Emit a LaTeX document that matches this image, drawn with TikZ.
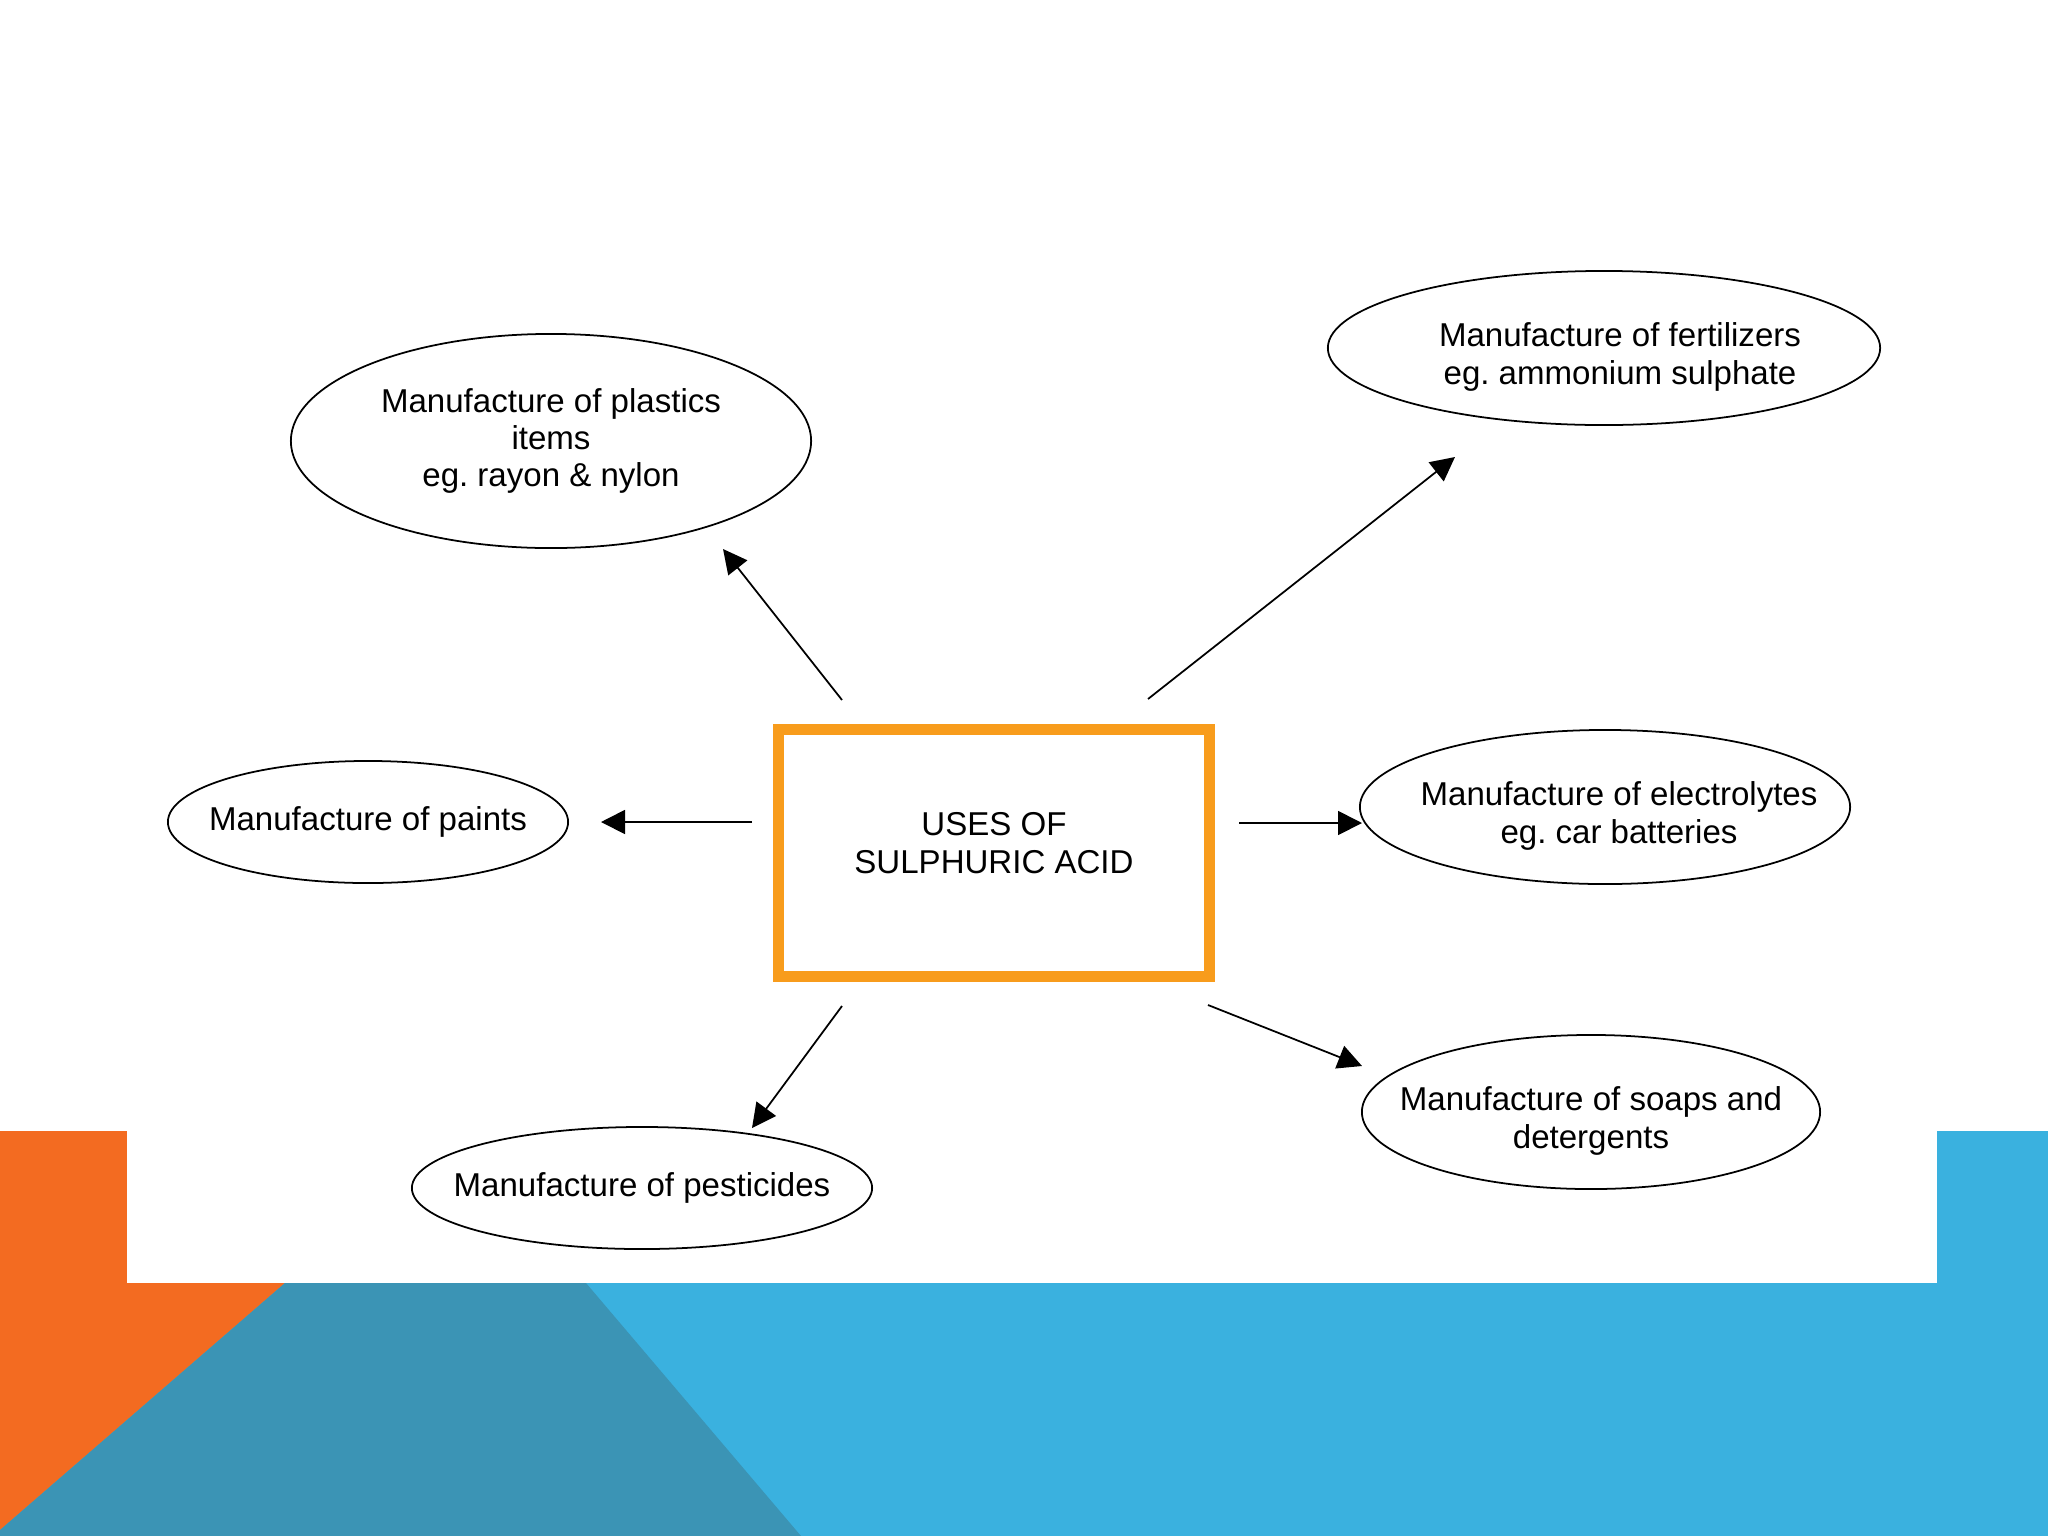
\documentclass[tikz,border=0pt]{standalone}
\usepackage{fontspec}
\setmainfont{Liberation Sans}
\frenchspacing
\usetikzlibrary{arrows.meta, shapes.geometric}
\definecolor{slorange}{HTML}{F36B21}
\definecolor{slteal}{HTML}{3B94B5}
\definecolor{slblue}{HTML}{3AB1DF}
\definecolor{boxorange}{HTML}{F89C1C}

\begin{document}
\begin{tikzpicture}[
  x=0.01cm, y=-0.01cm,
  >={Triangle[length=0.24cm, width=0.24cm]},
  bubble/.style={ellipse, draw=black, line width=0.5pt, fill=white,
    inner xsep=-0.3cm, inner ysep=0pt, align=center,
    font=\fontsize{9.4pt}{10.6pt}\selectfont},
  lowtext/.style={text depth=0pt, text height=0.72cm},
  acidbox/.style={draw=boxorange, line width=3.1pt, fill=white,
    minimum width=4.3cm, minimum height=2.46cm, align=center,
    text depth=0.2cm, font=\fontsize{9.4pt}{10.6pt}\selectfont},
  arr/.style={->, line width=0.5pt, black},
]

\useasboundingbox (0,0) rectangle (2048,1536);

% Background
\fill[white] (0,0) rectangle (2048,1536);
\fill[slblue] (0,1131) rectangle (2048,1536);
\fill[slorange] (0,1131) -- (127,1131) -- (127,1283) -- (285,1283) -- (0,1530) -- cycle;
\fill[slteal] (285,1283) -- (586,1283) -- (801,1536) -- (0,1536) -- (0,1530) -- cycle;
\fill[white] (127,0) rectangle (1937,1283);

% === Centre box ===
\node[acidbox] (acid) at (994,853) {USES OF\\SULPHURIC ACID};

% === Uses ===
\node[bubble, minimum width=5.2cm, minimum height=2.14cm] (plas) at (551,441)
  {Manufacture of plastics\\items\\eg. rayon \& nylon};
\node[bubble, lowtext, minimum width=5.52cm, minimum height=1.54cm] (fert) at (1604,348)
  {\hspace*{0.32cm}Manufacture of fertilizers\\\hspace*{0.32cm}eg. ammonium sulphate};
\node[bubble, minimum width=4cm, minimum height=1.22cm] (paint) at (368,822)
  {Manufacture of paints};
\node[bubble, lowtext, inner xsep=-0.5cm, minimum width=4.9cm, minimum height=1.54cm] (elec) at (1605,807)
  {\hspace*{0.28cm}Manufacture of electrolytes\\\hspace*{0.28cm}eg. car batteries};
\node[bubble, lowtext, minimum width=4.58cm, minimum height=1.54cm] (soap) at (1591,1112)
  {Manufacture of soaps and\\detergents};
\node[bubble, minimum width=4.6cm, minimum height=1.22cm] (pest) at (642,1188)
  {Manufacture of pesticides};

% === Arrows (free ends) ===
\coordinate (plas_from) at (842,700);   \coordinate (plas_to) at (723,549);
\coordinate (fert_from) at (1148,699);  \coordinate (fert_to) at (1455,457);
\coordinate (paint_from) at (752,822);  \coordinate (paint_to) at (601,822);
\coordinate (elec_from) at (1239,823);  \coordinate (elec_to) at (1362,823);
\coordinate (pest_from) at (842,1006);  \coordinate (pest_to) at (752,1128);
\coordinate (soap_from) at (1208,1005); \coordinate (soap_to) at (1362,1066);

\draw[arr] (plas_from) -- (plas_to);
\draw[arr] (fert_from) -- (fert_to);
\draw[arr] (paint_from) -- (paint_to);
\draw[arr] (elec_from) -- (elec_to);
\draw[arr] (pest_from) -- (pest_to);
\draw[arr] (soap_from) -- (soap_to);

\end{tikzpicture}
\end{document}
